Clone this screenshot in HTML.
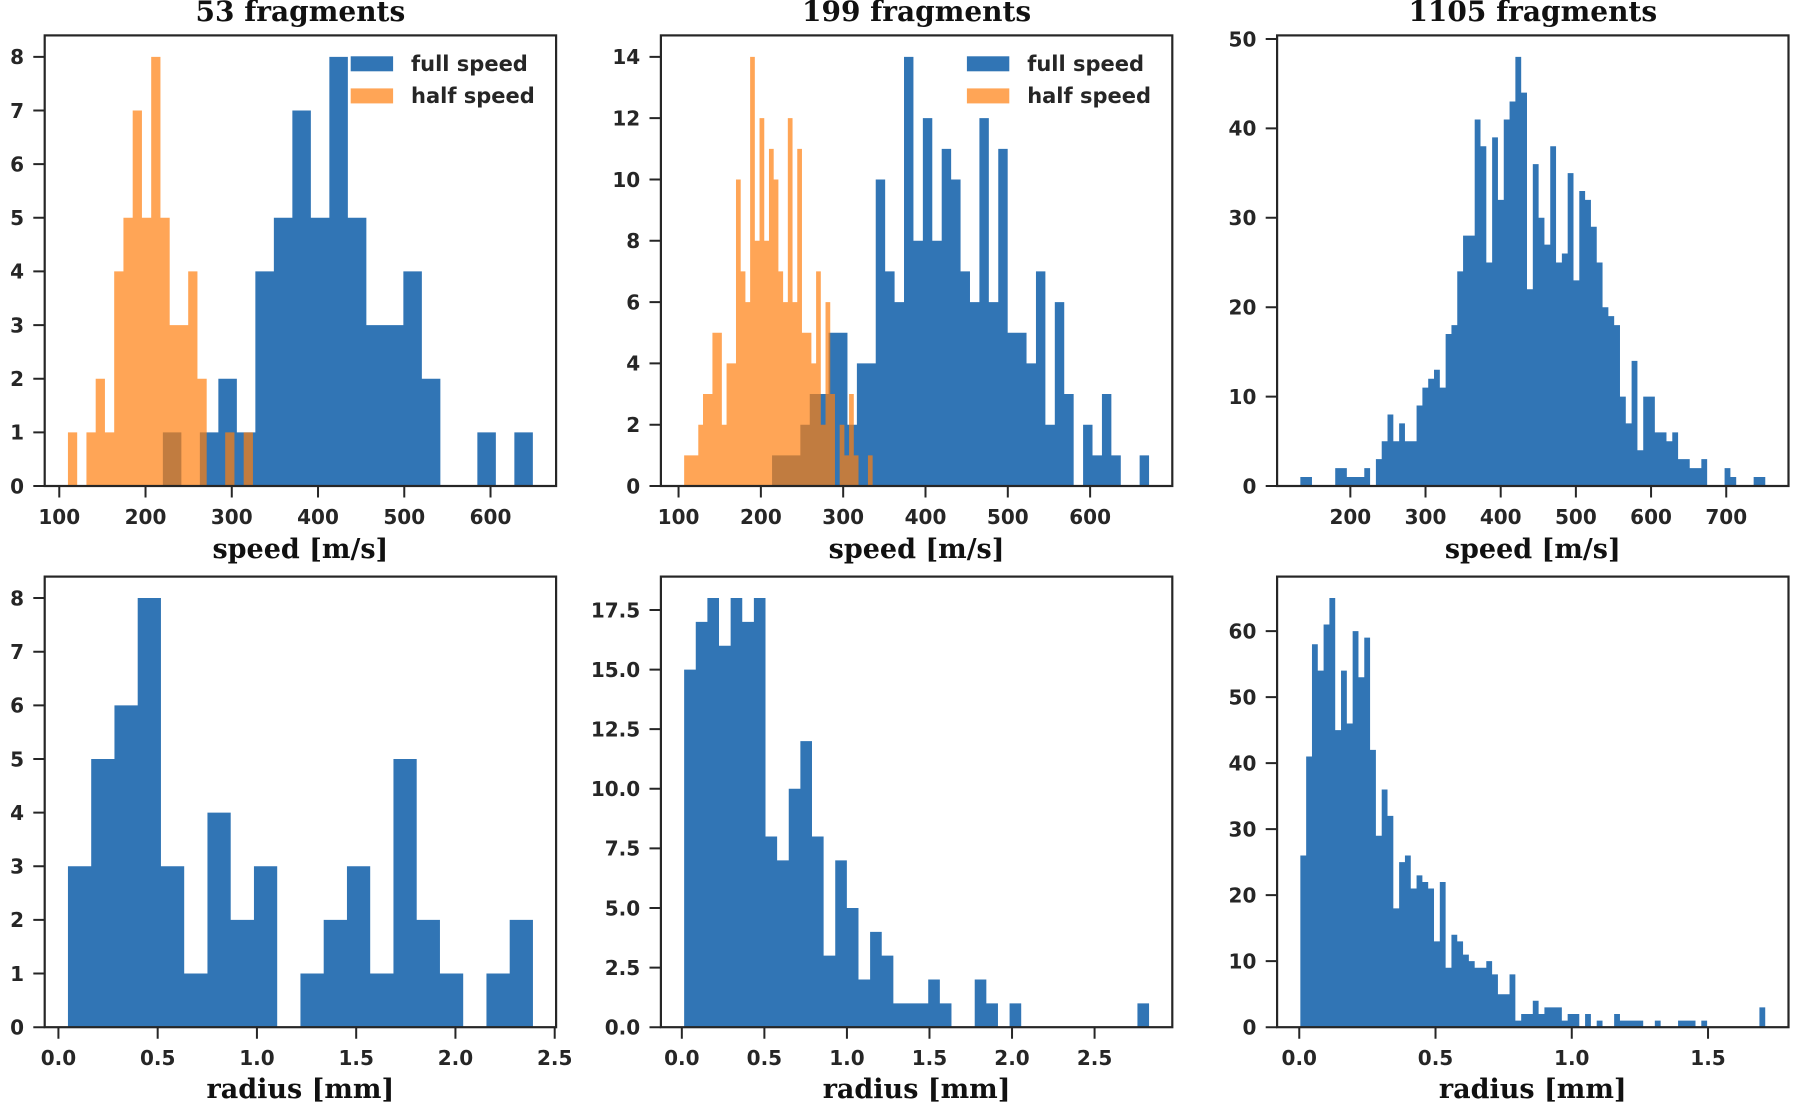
<!DOCTYPE html>
<html>
<head>
<meta charset="utf-8">
<style>
html,body{margin:0;padding:0;background:#fff;}
svg{display:block;}
.t{font-family:"DejaVu Sans","Liberation Sans",sans-serif;font-weight:bold;font-size:20px;fill:#262626;}
.lg{font-family:"DejaVu Sans","Liberation Sans",sans-serif;font-weight:bold;font-size:21px;fill:#262626;}
.s{font-family:"DejaVu Serif","Liberation Serif",serif;font-weight:bold;font-size:27px;fill:#111;}
.ti{font-family:"DejaVu Serif","Liberation Serif",serif;font-weight:bold;font-size:28px;fill:#111;}
.sp{fill:none;stroke:#262626;stroke-width:2.2;}
.tk{fill:none;stroke:#262626;stroke-width:2;}
.b{fill:#3175b5;}
.o{fill:#ff7f0e;fill-opacity:0.7;}
</style>
</head>
<body>
<svg width="1800" height="1107" viewBox="0 0 1800 1107" xmlns="http://www.w3.org/2000/svg">
<rect width="1800" height="1107" fill="#fff"/>

<!-- Titles -->
<text class="ti" x="300.4" y="21" text-anchor="middle">53 fragments</text>
<text class="ti" x="916.6" y="21" text-anchor="middle">199 fragments</text>
<text class="ti" x="1532.8" y="21" text-anchor="middle">1105 fragments</text>

<!-- ===== Panel 1 ===== -->
<path class="b" transform="translate(162.86,486) scale(18.50,-53.643)" d="M0 0V1H1V0H2V1H3V2H4V1H5V4H6V5H7V7H8V5H9V8H10V5H11V3H13V4H14V2H15V0H17V1H18V0H19V1H20V0Z"/>
<path class="o" transform="translate(67.94,486) scale(9.25,-53.643)" d="M0 0V1H1V0H2V1H3V2H4V1H5V4H6V5H7V7H8V5H9V8H10V5H11V3H13V4H14V2H15V0H17V1H18V0H19V1H20V0Z"/>
<rect class="sp" x="44.7" y="35.4" width="511.4" height="450.6"/>
<path class="tk" d="M33.3 486H44.7M33.3 432.36H44.7M33.3 378.71H44.7M33.3 325.07H44.7M33.3 271.43H44.7M33.3 217.78H44.7M33.3 164.14H44.7M33.3 110.5H44.7M33.3 56.86H44.7
M59.28 486V497.5M145.53 486V497.5M231.78 486V497.5M318.02 486V497.5M404.27 486V497.5M490.52 486V497.5"/>
<g class="t" text-anchor="end">
<text x="24" y="493.3">0</text><text x="24" y="439.66">1</text><text x="24" y="386.01">2</text><text x="24" y="332.37">3</text><text x="24" y="278.73">4</text><text x="24" y="225.08">5</text><text x="24" y="171.44">6</text><text x="24" y="117.8">7</text><text x="24" y="64.16">8</text>
</g>
<g class="t" text-anchor="middle">
<text x="59.28" y="524">100</text><text x="145.53" y="524">200</text><text x="231.78" y="524">300</text><text x="318.02" y="524">400</text><text x="404.27" y="524">500</text><text x="490.52" y="524">600</text>
</g>
<rect class="b" x="350.7" y="56.3" width="42.4" height="15"/>
<rect class="o" x="350.7" y="88.4" width="42.4" height="15"/>
<text class="lg" x="411" y="71">full speed</text>
<text class="lg" x="411" y="103">half speed</text>
<text class="s" x="300.4" y="558" text-anchor="middle">speed [m/s]</text>

<!-- ===== Panel 2 ===== -->
<path class="b" transform="translate(772.06,486) scale(9.425,-30.653)" d="M0 0V1H3V2H4V3H6V5H8V2H9V4H11V10H12V7H13V6H14V14H15V8H16V12H17V8H18V11H19V10H20V7H21V6H22V12H23V6H24V11H25V5H27V4H28V7H29V2H30V6H31V3H32V0H33V2H34V1H35V3H36V1H37V0H39V1H40V0Z"/>
<path class="o" transform="translate(684.15,486) scale(4.7125,-30.653)" d="M0 0V1H3V2H4V3H6V5H8V2H9V4H11V10H12V7H13V6H14V14H15V8H16V12H17V8H18V11H19V10H20V7H21V6H22V12H23V6H24V11H25V5H27V4H28V7H29V2H30V6H31V3H32V0H33V2H34V1H35V3H36V1H37V0H39V1H40V0Z"/>
<rect class="sp" x="660.9" y="35.4" width="511.4" height="450.6"/>
<path class="tk" d="M649.5 486H660.9M649.5 424.69H660.9M649.5 363.39H660.9M649.5 302.08H660.9M649.5 240.78H660.9M649.5 179.47H660.9M649.5 118.16H660.9M649.5 56.86H660.9
M678.55 486V497.5M760.87 486V497.5M843.18 486V497.5M925.5 486V497.5M1007.81 486V497.5M1090.12 486V497.5"/>
<g class="t" text-anchor="end">
<text x="640.2" y="493.3">0</text><text x="640.2" y="431.99">2</text><text x="640.2" y="370.69">4</text><text x="640.2" y="309.38">6</text><text x="640.2" y="248.08">8</text><text x="640.2" y="186.77">10</text><text x="640.2" y="125.46">12</text><text x="640.2" y="64.16">14</text>
</g>
<g class="t" text-anchor="middle">
<text x="678.55" y="524">100</text><text x="760.87" y="524">200</text><text x="843.18" y="524">300</text><text x="925.5" y="524">400</text><text x="1007.81" y="524">500</text><text x="1090.12" y="524">600</text>
</g>
<rect class="b" x="966.9" y="56.3" width="42.4" height="15"/>
<rect class="o" x="966.9" y="88.4" width="42.4" height="15"/>
<text class="lg" x="1027.2" y="71">full speed</text>
<text class="lg" x="1027.2" y="103">half speed</text>
<text class="s" x="916.6" y="558" text-anchor="middle">speed [m/s]</text>

<!-- ===== Panel 3 ===== -->
<path class="b" transform="translate(1300.35,486) scale(5.8115,-8.9405)" d="M0 0V1H2V0H6V2H8V1H11V2H12V0H13V3H14V5H15V8H16V5H17V7H18V5H20V9H21V11H22V12H23V13H24V11H25V17H26V18H27V24H28V28H30V41H31V38H32V25H33V39H34V32H35V41H36V43H37V48H38V44H39V22H40V36H41V30H42V27H43V38H44V25H45V26H46V35H47V23H48V33H49V32H50V29H51V25H52V20H53V19H54V18H55V10H56V7H57V14H58V4H59V10H61V6H63V5H64V6H65V3H67V2H69V3H70V0H73V2H74V1H75V0H78V1H80V0Z"/>
<rect class="sp" x="1277.1" y="35.4" width="511.4" height="450.6"/>
<path class="tk" d="M1265.7 486H1277.1M1265.7 396.6H1277.1M1265.7 307.19H1277.1M1265.7 217.79H1277.1M1265.7 128.38H1277.1M1265.7 38.98H1277.1
M1350.34 486V497.5M1425.52 486V497.5M1500.7 486V497.5M1575.88 486V497.5M1651.06 486V497.5M1726.24 486V497.5"/>
<g class="t" text-anchor="end">
<text x="1256.4" y="493.3">0</text><text x="1256.4" y="403.9">10</text><text x="1256.4" y="314.49">20</text><text x="1256.4" y="225.09">30</text><text x="1256.4" y="135.68">40</text><text x="1256.4" y="46.28">50</text>
</g>
<g class="t" text-anchor="middle">
<text x="1350.34" y="524">200</text><text x="1425.52" y="524">300</text><text x="1500.7" y="524">400</text><text x="1575.88" y="524">500</text><text x="1651.06" y="524">600</text><text x="1726.24" y="524">700</text>
</g>
<text class="s" x="1532.8" y="558" text-anchor="middle">speed [m/s]</text>

<!-- ===== Panel 4 ===== -->
<path class="b" transform="translate(67.95,1027.2) scale(23.25,-53.643)" d="M0 0V3H1V5H2V6H3V8H4V3H5V1H6V4H7V2H8V3H9V0H10V1H11V2H12V3H13V1H14V5H15V2H16V1H17V0H18V1H19V2H20V0Z"/>
<rect class="sp" x="44.7" y="576.6" width="511.4" height="450.6"/>
<path class="tk" d="M33.3 1027.2H44.7M33.3 973.56H44.7M33.3 919.91H44.7M33.3 866.27H44.7M33.3 812.63H44.7M33.3 758.98H44.7M33.3 705.34H44.7M33.3 651.7H44.7M33.3 598.06H44.7
M58.42 1027.2V1038.7M157.68 1027.2V1038.7M256.93 1027.2V1038.7M356.19 1027.2V1038.7M455.44 1027.2V1038.7M554.7 1027.2V1038.7"/>
<g class="t" text-anchor="end">
<text x="24" y="1034.5">0</text><text x="24" y="980.86">1</text><text x="24" y="927.21">2</text><text x="24" y="873.57">3</text><text x="24" y="819.93">4</text><text x="24" y="766.28">5</text><text x="24" y="712.64">6</text><text x="24" y="659">7</text><text x="24" y="605.36">8</text>
</g>
<g class="t" text-anchor="middle">
<text x="58.42" y="1065.2">0.0</text><text x="157.68" y="1065.2">0.5</text><text x="256.93" y="1065.2">1.0</text><text x="356.19" y="1065.2">1.5</text><text x="455.44" y="1065.2">2.0</text><text x="554.7" y="1065.2">2.5</text>
</g>
<text class="s" x="300.4" y="1098" text-anchor="middle">radius [mm]</text>

<!-- ===== Panel 5 ===== -->
<path class="b" transform="translate(684.14,1027.2) scale(11.623,-23.841)" d="M0 0V15H1V17H2V18H3V16H4V18H5V17H6V18H7V8H8V7H9V10H10V12H11V8H12V3H13V7H14V5H15V2H16V4H17V3H18V1H21V2H22V1H23V0H25V2H26V1H27V0H28V1H29V0H39V1H40V0Z"/>
<rect class="sp" x="660.9" y="576.6" width="511.4" height="450.6"/>
<path class="tk" d="M649.5 1027.2H660.9M649.5 967.6H660.9M649.5 907.99H660.9M649.5 848.39H660.9M649.5 788.79H660.9M649.5 729.18H660.9M649.5 669.58H660.9M649.5 609.98H660.9
M681.83 1027.2V1038.7M764.38 1027.2V1038.7M846.93 1027.2V1038.7M929.48 1027.2V1038.7M1012.03 1027.2V1038.7M1094.58 1027.2V1038.7"/>
<g class="t" text-anchor="end">
<text x="640.2" y="1034.5">0.0</text><text x="640.2" y="974.9">2.5</text><text x="640.2" y="915.29">5.0</text><text x="640.2" y="855.69">7.5</text><text x="640.2" y="796.09">10.0</text><text x="640.2" y="736.48">12.5</text><text x="640.2" y="676.88">15.0</text><text x="640.2" y="617.28">17.5</text>
</g>
<g class="t" text-anchor="middle">
<text x="681.83" y="1065.2">0.0</text><text x="764.38" y="1065.2">0.5</text><text x="846.93" y="1065.2">1.0</text><text x="929.48" y="1065.2">1.5</text><text x="1012.03" y="1065.2">2.0</text><text x="1094.58" y="1065.2">2.5</text>
</g>
<text class="s" x="916.6" y="1098" text-anchor="middle">radius [mm]</text>

<!-- ===== Panel 6 ===== -->
<path class="b" transform="translate(1300.35,1027.2) scale(5.811,-6.6022)" d="M0 0V26H1V41H2V58H3V54H4V61H5V65H6V45H7V54H8V46H9V60H10V53H11V59H12V42H13V29H14V36H15V32H16V18H17V25H18V26H19V21H20V23H21V22H22V21H23V13H24V22H25V9H26V14H27V13H28V11H29V10H30V9H32V10H33V8H34V5H36V8H37V1H38V2H40V4H41V2H42V3H45V1H46V2H48V0H49V2H50V0H51V1H52V0H54V2H55V1H59V0H61V1H62V0H65V1H68V0H69V1H70V0H79V3H80V0Z"/>
<rect class="sp" x="1277.1" y="576.6" width="511.4" height="450.6"/>
<path class="tk" d="M1265.7 1027.2H1277.1M1265.7 961.18H1277.1M1265.7 895.16H1277.1M1265.7 829.13H1277.1M1265.7 763.11H1277.1M1265.7 697.09H1277.1M1265.7 631.07H1277.1
M1299.26 1027.2V1038.7M1435.52 1027.2V1038.7M1571.77 1027.2V1038.7M1708.03 1027.2V1038.7"/>
<g class="t" text-anchor="end">
<text x="1256.4" y="1034.5">0</text><text x="1256.4" y="968.48">10</text><text x="1256.4" y="902.46">20</text><text x="1256.4" y="836.43">30</text><text x="1256.4" y="770.41">40</text><text x="1256.4" y="704.39">50</text><text x="1256.4" y="638.37">60</text>
</g>
<g class="t" text-anchor="middle">
<text x="1299.26" y="1065.2">0.0</text><text x="1435.52" y="1065.2">0.5</text><text x="1571.77" y="1065.2">1.0</text><text x="1708.03" y="1065.2">1.5</text>
</g>
<text class="s" x="1532.8" y="1098" text-anchor="middle">radius [mm]</text>
</svg>
</body>
</html>
